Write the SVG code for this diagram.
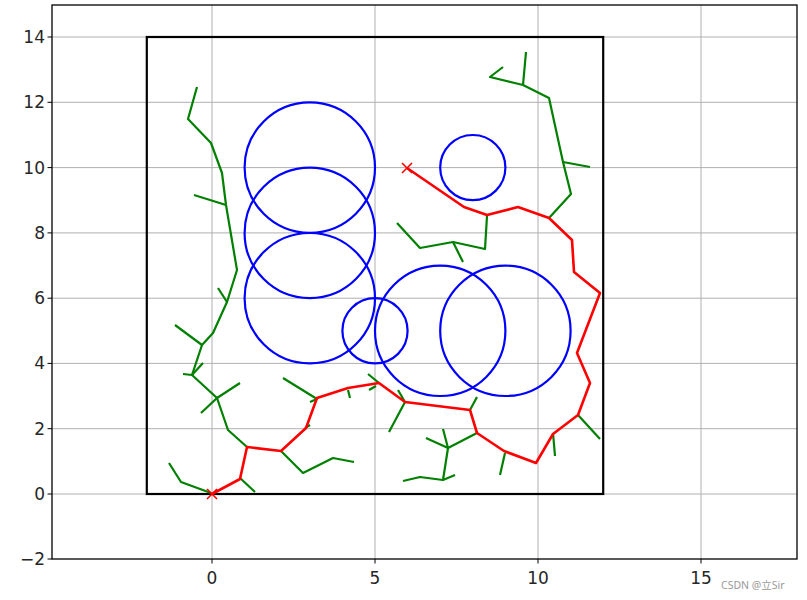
<svg xmlns="http://www.w3.org/2000/svg" width="807" height="600" viewBox="0 0 807 600">
<style>
.grid{stroke:#b0b0b0;stroke-width:1}
.tick{stroke:#000;stroke-width:1}
.lbl{font-family:"DejaVu Sans",sans-serif;font-size:17px;fill:#262626}
.obs{fill:none;stroke:#0000ff;stroke-width:2.2}
.tree{fill:none;stroke:#008000;stroke-width:2.2;stroke-linejoin:round}
.path{fill:none;stroke:#ff0000;stroke-width:2.6;stroke-linejoin:round}
.mk{stroke:#ff0000;stroke-width:1.6}
</style>
<rect width="807" height="600" fill="#fff"/>
<g id="grid">
<line class="grid" x1="212" y1="5" x2="212" y2="559"/>
<line class="grid" x1="375" y1="5" x2="375" y2="559"/>
<line class="grid" x1="538" y1="5" x2="538" y2="559"/>
<line class="grid" x1="701" y1="5" x2="701" y2="559"/>
<line class="grid" x1="52" y1="494" x2="797" y2="494"/>
<line class="grid" x1="52" y1="428.7" x2="797" y2="428.7"/>
<line class="grid" x1="52" y1="363.4" x2="797" y2="363.4"/>
<line class="grid" x1="52" y1="298.2" x2="797" y2="298.2"/>
<line class="grid" x1="52" y1="232.9" x2="797" y2="232.9"/>
<line class="grid" x1="52" y1="167.6" x2="797" y2="167.6"/>
<line class="grid" x1="52" y1="102.3" x2="797" y2="102.3"/>
<line class="grid" x1="52" y1="37" x2="797" y2="37"/>
</g>
<g id="boundary">
<rect x="146.8" y="37" width="456.4" height="457" fill="none" stroke="#000" stroke-width="2.2"/>
</g>
<g id="obstacles">
<circle class="obs" cx="309.8" cy="167.6" r="65.2"/>
<circle class="obs" cx="309.8" cy="232.9" r="65.2"/>
<circle class="obs" cx="309.8" cy="298.2" r="65.2"/>
<circle class="obs" cx="375" cy="330.8" r="32.6"/>
<circle class="obs" cx="440.2" cy="330.8" r="65.2"/>
<circle class="obs" cx="505.4" cy="330.8" r="65.2"/>
<circle class="obs" cx="472.8" cy="167.6" r="32.6"/>
</g>
<g id="tree">
<polyline class="tree" points="197,87 188,119 211,143 222,173 226,205 237,270 227,302 213,333 202,345 192,375 217,398 228,430 247,447"/>
<polyline class="tree" points="194,195 226,205"/>
<polyline class="tree" points="218,288 227,302"/>
<polyline class="tree" points="175,325 202,345"/>
<polyline class="tree" points="203,363 192,375 183,374"/>
<polyline class="tree" points="240,383 217,398 201,413"/>
<polyline class="tree" points="169,463 181,482 211,493"/>
<polyline class="tree" points="240,478 255,492"/>
<polyline class="tree" points="283,378 317,399 310,402"/>
<polyline class="tree" points="348,390 350,398"/>
<polyline class="tree" points="368,374 379,383"/>
<polyline class="tree" points="369,390 376,386"/>
<polyline class="tree" points="305,428 310,425"/>
<polyline class="tree" points="281,451 303,473 333,458 354,462"/>
<polyline class="tree" points="398,390 405,402 389,432"/>
<polyline class="tree" points="403,481 420,477 443,480 455,475"/>
<polyline class="tree" points="443,480 448,448 477,433"/>
<polyline class="tree" points="426,438 448,448 443,429"/>
<polyline class="tree" points="477,397 470,410"/>
<polyline class="tree" points="505,453 500,475"/>
<polyline class="tree" points="553,433 555,456"/>
<polyline class="tree" points="578,415 600,439"/>
<polyline class="tree" points="397,223 420,248 453,242 463,262"/>
<polyline class="tree" points="453,242 485,249 487,216"/>
<polyline class="tree" points="526,52 523,85"/>
<polyline class="tree" points="503,67 490,77 523,85 549,98 563,162 571,194 549,218"/>
<polyline class="tree" points="563,162 590,167"/>
</g>
<g id="path">
<polyline class="path" points="212,494 240,479 247,447 281,451 306,428 317,398 348,388 379,383 405,402 470,410 477,433 504,451 536,463 553,434 578,415 590,383 577,353 600,293 574,272 572,240 549,218 518,207 487,215 464,207 407,168"/>
</g>
<g id="start">
<line class="mk" x1="207" y1="489" x2="217" y2="499"/><line class="mk" x1="207" y1="499" x2="217" y2="489"/>
</g>
<g id="goal">
<line class="mk" x1="402" y1="163" x2="412" y2="173"/><line class="mk" x1="402" y1="173" x2="412" y2="163"/>
</g>
<g id="axes">
<rect x="52" y="5" width="745" height="554" fill="none" stroke="#000" stroke-width="1.3"/>
<line class="tick" x1="212" y1="559" x2="212" y2="563.5"/>
<line class="tick" x1="375" y1="559" x2="375" y2="563.5"/>
<line class="tick" x1="538" y1="559" x2="538" y2="563.5"/>
<line class="tick" x1="701" y1="559" x2="701" y2="563.5"/>
<line class="tick" x1="47.5" y1="559" x2="52" y2="559"/>
<line class="tick" x1="47.5" y1="494" x2="52" y2="494"/>
<line class="tick" x1="47.5" y1="428.7" x2="52" y2="428.7"/>
<line class="tick" x1="47.5" y1="363.4" x2="52" y2="363.4"/>
<line class="tick" x1="47.5" y1="298.2" x2="52" y2="298.2"/>
<line class="tick" x1="47.5" y1="232.9" x2="52" y2="232.9"/>
<line class="tick" x1="47.5" y1="167.6" x2="52" y2="167.6"/>
<line class="tick" x1="47.5" y1="102.3" x2="52" y2="102.3"/>
<line class="tick" x1="47.5" y1="37" x2="52" y2="37"/>
<g class="lbl" text-anchor="middle">
<text x="212" y="583.5">0</text>
<text x="375" y="583.5">5</text>
<text x="538" y="583.5">10</text>
<text x="701" y="583.5">15</text>
</g>
<g class="lbl" text-anchor="end">
<text x="45" y="565">−2</text>
<text x="45" y="500">0</text>
<text x="45" y="434.7">2</text>
<text x="45" y="369.4">4</text>
<text x="45" y="304.2">6</text>
<text x="45" y="238.9">8</text>
<text x="45" y="173.6">10</text>
<text x="45" y="108.3">12</text>
<text x="45" y="43">14</text>
</g>
</g>
<text x="721" y="589" font-family="'Noto Sans','Noto Sans CJK SC',sans-serif" font-size="10.5" fill="#999">CSDN @立Sir</text>
</svg>
